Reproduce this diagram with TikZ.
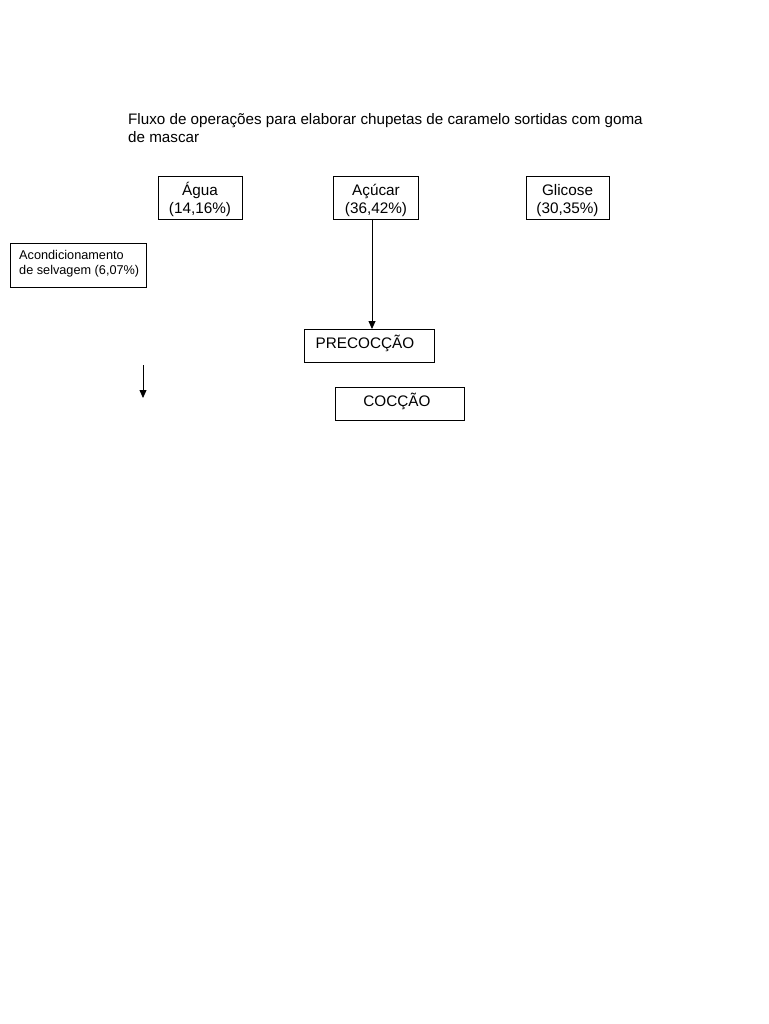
\documentclass[tikz,border=0pt]{standalone}
\usepackage{fontspec}
\setmainfont{Liberation Sans}
\usetikzlibrary{arrows.meta}
\begin{document}
\begin{tikzpicture}[x=1pt,y=-1pt,
  box/.style={draw,line width=0.8pt,inner sep=0pt},
  boxtxt/.style={inner sep=0pt,align=center,anchor=base,font=\fontsize{15.3}{18}\selectfont},
  arr/.style={-{Triangle[length=8pt,width=7pt]},line width=0.8pt}]
\useasboundingbox (0,0) rectangle (768,1024);
\node[anchor=base west,align=left,inner sep=0pt,font=\fontsize{15.2}{17.5}\selectfont] (title) at (128,142.5)
  {Fluxo de operações para elaborar chupetas de caramelo sortidas com goma\\de mascar};
\node[box,minimum width=84pt,minimum height=43pt] (agua) at (200,197.5) {};
\node[boxtxt] (aguatxt) at (200,213.5) {Água\\(14,16\%)};
\node[box,minimum width=85pt,minimum height=43pt] (acucar) at (375.5,197.5) {};
\node[boxtxt] (acucartxt) at (376,213.5) {Açúcar\\(36,42\%)};
\node[box,minimum width=83pt,minimum height=43pt] (glicose) at (567.5,197.5) {};
\node[boxtxt] (glicosetxt) at (567.5,213.5) {Glicose\\(30,35\%)};
\node[box,minimum width=136pt,minimum height=44pt] (acond) at (78,265) {};
\node[anchor=base west,align=left,inner sep=0pt,font=\fontsize{12.7}{15}\selectfont] (acondtxt) at (19,274.5) {Acondicionamento\\de selvagem (6,07\%)};
\node[box,minimum width=130pt,minimum height=33pt] (preco) at (369,345.5) {};
\node[boxtxt] (precotxt) at (365,348) {PRECOCÇÃO};
\node[box,minimum width=129pt,minimum height=33pt] (coccao) at (399.5,403.5) {};
\node[boxtxt] (coccaotxt) at (397,406) {COCÇÃO};
\coordinate (a1) at (372,219);
\coordinate (a2) at (372,329);
\draw[arr] (a1) -- (a2);
\coordinate (f1) at (143,365);
\coordinate (f2) at (143,398);
\draw[arr] (f1) -- (f2);
\end{tikzpicture}
\end{document}
